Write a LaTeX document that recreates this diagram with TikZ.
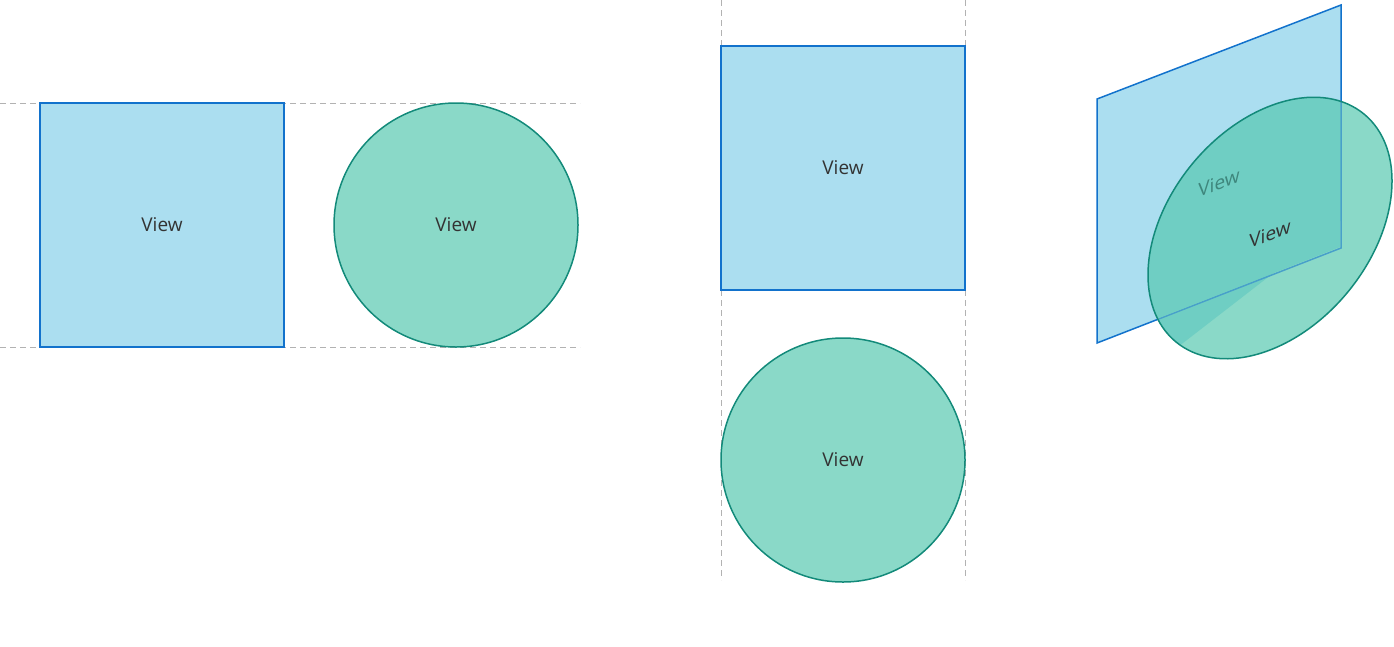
\documentclass[tikz,border=0pt]{standalone}
\usepackage{fontspec}
\setmainfont{Open Sans}
\definecolor{boxblue}{HTML}{ABDEF0}
\definecolor{edgeblue}{HTML}{1272CC}
\definecolor{discgreen}{HTML}{8AD9C8}
\definecolor{edgegreen}{HTML}{138A7A}
\definecolor{mixgreen}{HTML}{6FCEC3}
\definecolor{labelgray}{HTML}{333333}
\tikzset{
  box/.style={draw=edgeblue,fill=boxblue,line width=1.5pt,minimum size=244pt,inner sep=0pt},
  disc/.style={circle,draw=edgegreen,fill=discgreen,line width=1.5pt,minimum size=244pt,inner sep=0pt},
  guide/.style={draw=gray!60,dashed,dash pattern=on 6pt off 4pt,line width=1pt},
  lbl/.style={text=labelgray,font=\fontsize{19}{23}\selectfont},
  skew/.style={cm={1,0.385,0,1,(0,0)}}
}
\begin{document}
\begin{tikzpicture}[x=1pt,y=-1pt]
  \useasboundingbox (0,0) rectangle (1394,646);
  % side by side
  \draw[guide] (0,103) -- (580,103);
  \draw[guide] (0,347) -- (580,347);
  \node[box,lbl] (sqa) at (162,225) {View};
  \node[disc,lbl] (cira) at (456,225) {View};
  % stacked
  \draw[guide] (721,0) -- (721,580);
  \draw[guide] (965,0) -- (965,580);
  \node[box,lbl] (sqb) at (843,168) {View};
  \node[disc,lbl] (cirb) at (843,460) {View};
  % depth
  \draw[edgeblue,fill=boxblue,line width=1.5pt]
    (1097,99) -- (1341,5) -- (1341,248) -- (1097,343) -- cycle;
  \begin{scope}[shift={(1270,228)},skew]
    \fill[discgreen] (0,0) circle (122);
    \clip (0,0) circle (122);
    \fill[mixgreen,skew,cm={1,-0.385,0,1,(0,0)},shift={(-1270,-228)}]
      (1097,99) -- (1341,5) -- (1341,248) -- (1097,343) -- cycle;
  \end{scope}
  \begin{scope}
    \clip[shift={(1270,228)},skew] (0,0) circle (122);
    \draw[edgeblue!55!discgreen,line width=1.5pt]
      (1097,99) -- (1341,5) -- (1341,248) -- (1097,343) -- cycle;
    \fill[mixgreen] (1098,99) -- (1340,6) -- (1340,247) -- (1098,342) -- cycle;
  \end{scope}
  \node[lbl,text=edgegreen!60!gray,skew] (ghost) at (1219,183) {View};
  \draw[edgegreen,line width=1.5pt,shift={(1270,228)},skew] (0,0) circle (122);
  \node[lbl,skew] (circ) at (1270,234) {View};
\end{tikzpicture}
\end{document}
